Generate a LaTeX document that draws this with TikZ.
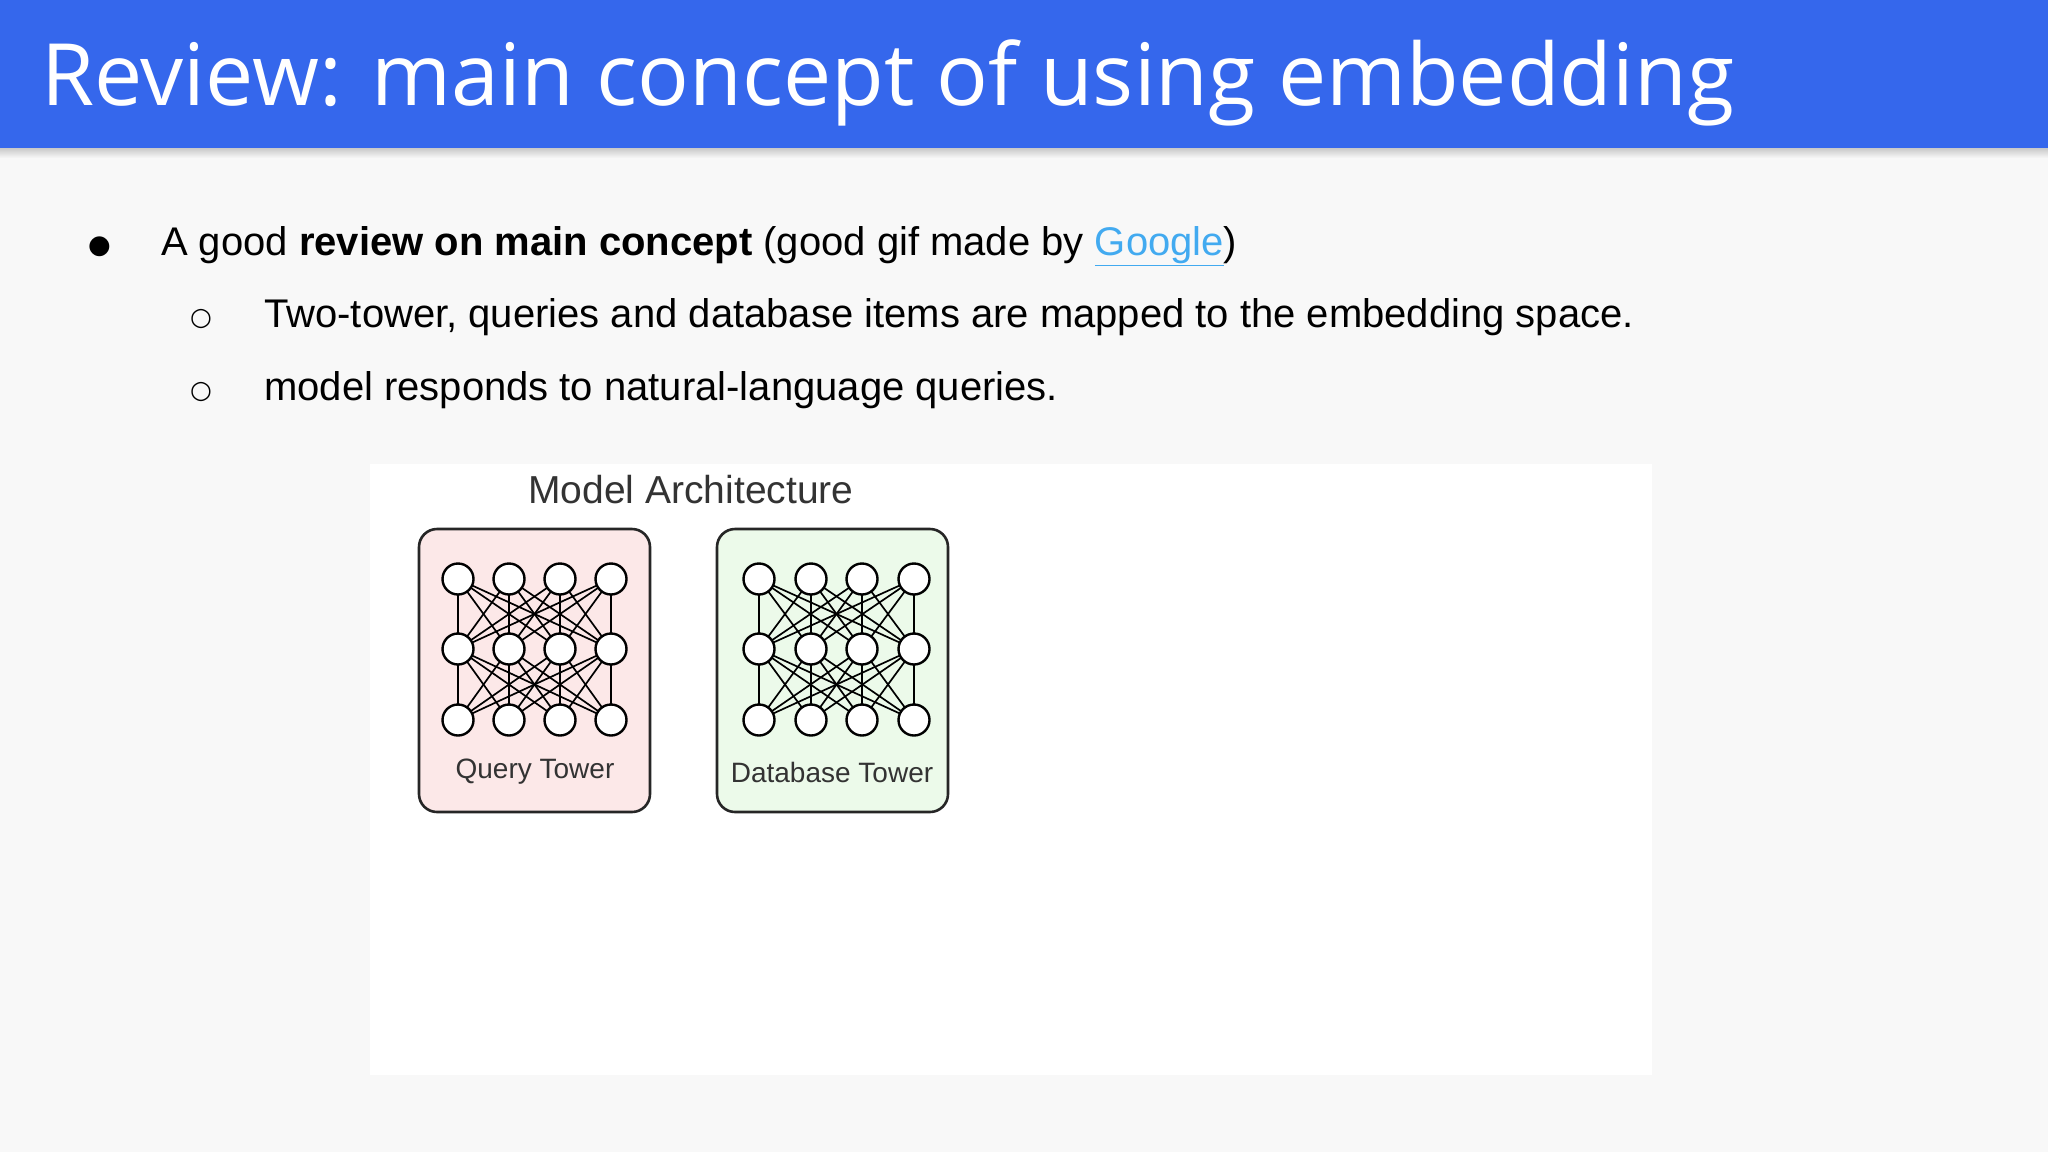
\documentclass[tikz,border=0pt]{standalone}
\usepackage{fontspec}
\setmainfont{Liberation Sans}
\newfontfamily\titlefont{Open Sans}
\newfontfamily\symfont{DejaVu Sans}
\definecolor{hdr}{RGB}{53,103,236}
\definecolor{pagebg}{RGB}{248,248,248}
\definecolor{qfill}{RGB}{252,232,232}
\definecolor{dfill}{RGB}{236,250,234}
\definecolor{linkc}{RGB}{66,170,240}
\begin{document}
\begin{tikzpicture}[x=1pt,y=-1pt,
  tower/.style={draw=black!85,line width=2.6pt,rounded corners=18pt},
  neuron/.style={circle,draw=black,fill=white,line width=2.4pt,minimum size=31pt,inner sep=0pt},
  txt/.style={anchor=base west,inner sep=0pt,font=\fontsize{40}{44}\selectfont}]
\useasboundingbox (0,0) rectangle (2048,1152);
\fill[pagebg] (0,0) rectangle (2048,1152);
\shade[top color=black!25,bottom color=pagebg] (0,146) rectangle (2048,158);
\fill[hdr] (0,0) rectangle (2048,148);
\node[anchor=base west,inner sep=0pt,text=white,font=\titlefont\fontsize{86}{96}\selectfont] (title) at (41,105) {Review: main concept of using embedding};
\node[txt] (b1) at (88,253) {\symfont\fontsize{26}{30}\selectfont ●};
\node[txt] (l1) at (161,255) {A good \textbf{review on main concept} (good gif made by \textcolor{linkc}{\underline{Google}})};
\node[txt] (b2) at (190,325) {\symfont\fontsize{25}{30}\selectfont ○};
\node[txt] (l2) at (264,327) {Two-tower, queries and database items are mapped to the embedding space.};
\node[txt] (b3) at (190,398) {\symfont\fontsize{25}{30}\selectfont ○};
\node[txt] (l3) at (264,400) {model responds to natural-language queries.};
\fill[white] (370,464) rectangle (1652,1075);
\node[font=\fontsize{39}{44}\selectfont,text=black!80] (ma) at (691,490) {Model Architecture};
\draw[tower,fill=qfill] (419,529) rectangle (650,812);
\draw[tower,fill=dfill] (717,529) rectangle (948,812);
\node[font=\fontsize{28}{30}\selectfont,text=black!80] (ql) at (535,772) {Query Tower};
\node[font=\fontsize{28}{30}\selectfont,text=black!80] (dl) at (832,772) {Database Tower};
\foreach \t/\xa/\xb/\xc/\xd in {q/458/509/560/611, d/759/811/862/914}{
  \foreach \r/\y in {1/579,2/649,3/720}{
    \foreach \c/\x in {1/\xa,2/\xb,3/\xc,4/\xd}{
      \coordinate (\t\r\c) at (\x,\y);
    }
  }
  \foreach \i in {1,...,4}{\foreach \j in {1,...,4}{
    \draw[line width=1.7pt] (\t1\i) -- (\t2\j);
    \draw[line width=1.7pt] (\t2\i) -- (\t3\j);
  }}
  \foreach \r in {1,2,3}{\foreach \c in {1,...,4}{
    \node[neuron] (n\t\r\c) at (\t\r\c) {};
  }}
}
\end{tikzpicture}
\end{document}
